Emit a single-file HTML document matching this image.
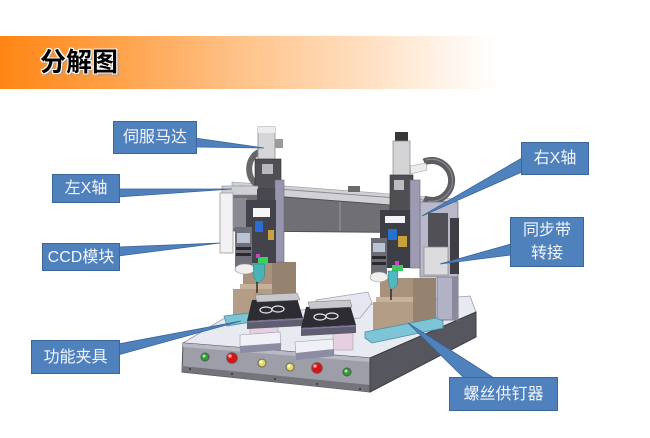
<!DOCTYPE html>
<html><head><meta charset="utf-8">
<style>
html,body{margin:0;padding:0;background:#fff;}
body{width:650px;height:438px;position:relative;overflow:hidden;font-family:"Liberation Sans","Noto Sans CJK SC",sans-serif;}
.band{position:absolute;left:0;top:36px;width:650px;height:53px;background:linear-gradient(to right,#ff8514 0%,#ffa24a 18%,#ffc48c 38%,#ffe2c6 58%,#fff6ee 70%,#ffffff 77%);}
.title{position:absolute;left:40px;top:47px;font-size:26px;line-height:28px;font-weight:bold;color:#000;font-family:"Noto Sans CJK SC",sans-serif;letter-spacing:0px;
text-shadow:-1px -1px 0 #fff,1px -1px 0 #fff,-1px 1px 0 #fff,1px 1px 0 #fff,0 -1px 0 #fff,0 1px 0 #fff,-1px 0 0 #fff,1px 0 0 #fff,2px 2px 2px #999;}
.lb{position:absolute;display:flex;align-items:center;justify-content:center;text-align:center;color:#f3f6fb;font-size:16px;line-height:21px;font-family:"Liberation Sans","Noto Sans CJK SC",sans-serif;}
</style></head><body>
<div class="band"></div>
<div class="title">分解图</div>
<svg width="650" height="438" style="position:absolute;left:0;top:0">
<!-- base -->
<polygon points="183,343 228,316 470,296 476,312 370,358" fill="#e8eaf2" stroke="#9a9aa6" stroke-width="0.8"/>
<polygon points="183,343 370,358 370,392 182,372" fill="#9d9ea8" stroke="#50505a" stroke-width="1"/>
<polygon points="183,343 370,358 370,362 183,347" fill="#b8b9c2"/>
<polygon points="182,366 370,385 370,392 182,372" fill="#74747c"/>
<polygon points="370,358 476,312 476,337 370,392" fill="#56565f" stroke="#3c3c44" stroke-width="1"/>
<g fill="#333">
<circle cx="190" cy="369" r="1"/><circle cx="232" cy="374" r="1"/><circle cx="275" cy="379" r="1"/><circle cx="317" cy="384" r="1"/><circle cx="360" cy="389" r="1"/>
</g>
<!-- buttons -->
<circle cx="205" cy="357" r="4" fill="#2f9e38" stroke="#555" stroke-width="1"/><circle cx="204" cy="356" r="1.5" fill="#9ef09e"/>
<circle cx="232" cy="358" r="5.5" fill="#d41616" stroke="#666" stroke-width="0.8"/><circle cx="230" cy="356" r="1.8" fill="#ff9a9a"/>
<circle cx="262" cy="363" r="4" fill="#e6dc5a" stroke="#666" stroke-width="1"/><circle cx="261" cy="362" r="1.5" fill="#fffbd0"/>
<circle cx="290" cy="367" r="4" fill="#e6dc5a" stroke="#666" stroke-width="1"/><circle cx="289" cy="366" r="1.5" fill="#fffbd0"/>
<circle cx="317" cy="368" r="5.5" fill="#d41616" stroke="#666" stroke-width="0.8"/><circle cx="315" cy="366" r="1.8" fill="#ff9a9a"/>
<circle cx="347" cy="372" r="4" fill="#2f9e38" stroke="#555" stroke-width="1"/><circle cx="346" cy="371" r="1.5" fill="#9ef09e"/>

<!-- right gantry post -->
<rect x="437" y="270" width="21" height="50" fill="#b2b2c6" stroke="#7a7a8c" stroke-width="1"/>
<rect x="452" y="270" width="6" height="50" fill="#8a8a9c"/>

<!-- beam -->
<polygon points="232,182 457,199 457,210 232,193" fill="#d2d2d6" stroke="#9a9aa0" stroke-width="0.6"/>
<line x1="240" y1="186" x2="450" y2="202" stroke="#8a8a90" stroke-width="1"/>
<polygon points="232,193 457,210 457,233 232,231" fill="#6f6f74" stroke="#4a4a50" stroke-width="0.8"/>
<line x1="340" y1="202" x2="340" y2="231" stroke="#98989e" stroke-width="1"/>
<rect x="348" y="186" width="12" height="6" fill="#6a6a6e"/>

<!-- cable rings -->
<path d="M264,151 A14,17 0 0 0 264,187" fill="none" stroke="#66666b" stroke-width="6"/>
<path d="M424,162 A20,20 0 1 1 424,199" fill="none" stroke="#5d5d62" stroke-width="7"/>
<path d="M426,160 A21,21 0 1 1 428,201" fill="none" stroke="#8e8e94" stroke-width="1"/>
<polygon points="410,166 426,163 427,170 411,174" fill="#ececec" stroke="#999" stroke-width="0.5"/>

<!-- beige blocks -->
<rect x="272" y="262" width="24" height="52" fill="#958370"/>
<rect x="243" y="262" width="29" height="26" fill="#a8927c"/>
<rect x="240" y="284" width="32" height="6" fill="#c6b29a"/>
<rect x="233" y="289" width="39" height="29" fill="#b39d86"/>
<rect x="413" y="278" width="23" height="48" fill="#958370"/>
<rect x="380" y="278" width="33" height="22" fill="#a8927c"/>
<rect x="376" y="297" width="37" height="6" fill="#c6b29a"/>
<rect x="373" y="302" width="40" height="31" fill="#b39d86"/>

<!-- cyan plates -->
<polygon points="365,332 436,318 443,321 443,328 372,343 365,338" fill="#7cc4d6" stroke="#4e8ea4" stroke-width="0.8"/>
<polygon points="224,316 250,313 251,322 227,326" fill="#7cc4d6" stroke="#4e8ea4" stroke-width="0.8"/>

<!-- left head -->
<rect x="258" y="127" width="17" height="33" fill="#d6d6d9" stroke="#8c8c90" stroke-width="0.8"/>
<rect x="258" y="127" width="17" height="6" fill="#ececee"/>
<rect x="275" y="139" width="8" height="9" fill="#9a9a9e"/>
<rect x="255" y="159" width="26" height="30" fill="#4f4f54" stroke="#333" stroke-width="0.6"/>
<rect x="262" y="164" width="11" height="10" fill="#b9b9bd"/>
<rect x="275" y="180" width="9" height="82" fill="#9896ae" stroke="#6c6a80" stroke-width="0.6"/>
<rect x="222" y="186" width="36" height="9" fill="#cfcfd4" stroke="#8a8a90" stroke-width="0.6"/>
<rect x="257" y="189" width="18" height="12" fill="#48484e"/>
<rect x="220" y="193" width="13" height="60" fill="#f2f2f4" stroke="#9a9aa0" stroke-width="0.8"/>
<rect x="233" y="198" width="14" height="30" fill="#8a8a92"/>
<rect x="246" y="200" width="30" height="63" fill="#43434b"/>
<rect x="253" y="208" width="17" height="9" fill="#f6f6f6"/>
<rect x="255" y="221" width="8" height="11" fill="#2a6cd4"/>
<rect x="268" y="230" width="6" height="10" fill="#c9a242"/>
<rect x="235" y="227" width="17" height="44" fill="#70707a"/>
<rect x="237" y="233" width="13" height="10" fill="#b8c4d4"/>
<rect x="236" y="247" width="15" height="3" fill="#2a2a2e"/>
<rect x="236" y="253" width="15" height="3" fill="#2a2a2e"/>
<ellipse cx="245" cy="269" rx="10" ry="5" fill="#f0eeee" stroke="#999" stroke-width="0.6"/>
<rect x="258" y="257" width="10" height="7" fill="#3ccf60"/>
<rect x="256" y="254" width="4" height="4" fill="#d040c8"/>
<polygon points="253,264 265,264 264,278 258,283 254,278" fill="#48b4b8" stroke="#2c7c80" stroke-width="0.5"/>
<line x1="257" y1="282" x2="257" y2="293" stroke="#111" stroke-width="1.2"/>

<!-- right head -->
<rect x="420" y="202" width="38" height="75" fill="#b9b8ca" stroke="#77778a" stroke-width="0.8"/>
<rect x="428" y="213" width="20" height="36" fill="#505056"/>
<rect x="424" y="247" width="24" height="28" fill="#dcdcde" stroke="#888" stroke-width="0.7"/>
<rect x="450" y="218" width="9" height="56" fill="#3e3e44"/>
<rect x="395" y="132" width="13" height="10" fill="#383838"/>
<rect x="393" y="141" width="17" height="35" fill="#d4d4d6" stroke="#888" stroke-width="0.7"/>
<rect x="390" y="175" width="23" height="37" fill="#4e4e53" stroke="#333" stroke-width="0.6"/>
<rect x="394" y="180" width="10" height="10" fill="#bdbdc1"/>
<rect x="410" y="180" width="10" height="88" fill="#9d9bb2" stroke="#6c6a80" stroke-width="0.6"/>
<rect x="380" y="210" width="30" height="58" fill="#3e3e46"/>
<rect x="385" y="216" width="20" height="7" fill="#f4f4f4"/>
<rect x="388" y="229" width="9" height="11" fill="#2870d0"/>
<rect x="398" y="236" width="9" height="11" fill="#c8a040"/>
<rect x="371" y="238" width="16" height="38" fill="#6c6c74"/>
<rect x="373" y="243" width="12" height="9" fill="#b8c4d4"/>
<rect x="372" y="256" width="14" height="3" fill="#2a2a2e"/>
<rect x="372" y="262" width="14" height="3" fill="#2a2a2e"/>
<ellipse cx="379" cy="277" rx="9" ry="5" fill="#f0eeee" stroke="#999" stroke-width="0.6"/>
<rect x="392" y="265" width="11" height="6" fill="#40c860"/>
<rect x="395" y="261" width="4" height="4" fill="#d040d0"/>
<polygon points="388,271 398,271 397,285 392,290 389,285" fill="#50b8c0" stroke="#2c7c80" stroke-width="0.5"/>
<line x1="391" y1="289" x2="391" y2="300" stroke="#111" stroke-width="1.2"/>

<!-- rails / slides -->
<polygon points="316,300 368,292 372,303 360,318 320,322" fill="#e6e6f0" stroke="#a0a0b0" stroke-width="0.7"/>
<!-- left fixture -->
<rect x="250" y="325" width="28" height="18" fill="#e6cfe0" stroke="#a890a0" stroke-width="0.5"/>
<polygon points="240,335 280,332 281,346 240,350" fill="#f0f0f6" stroke="#9a9ab0" stroke-width="0.6"/>
<polygon points="240,346 281,343 281,350 240,353" fill="#8c8ca2"/>
<polygon points="252,300 297,298 303,318 247,321" fill="#2c2c32"/>
<polygon points="255,295 297,293 300,300 257,302" fill="#c8c8cc" stroke="#777" stroke-width="0.5"/>
<ellipse cx="266" cy="310" rx="6" ry="3" fill="none" stroke="#e8e8e8" stroke-width="1.2"/>
<ellipse cx="278" cy="309" rx="6" ry="3" fill="none" stroke="#e8e8e8" stroke-width="1.2"/>
<polygon points="247,321 303,318 303,326 247,329" fill="#5e5e6e"/>
<line x1="247" y1="322" x2="303" y2="319" stroke="#8a7ab0" stroke-width="1"/>
<!-- right fixture -->
<rect x="333" y="329" width="20" height="21" fill="#e6cfe0" stroke="#a890a0" stroke-width="0.5"/>
<polygon points="295,342 333,339 334,353 296,358" fill="#f0f0f6" stroke="#9a9ab0" stroke-width="0.6"/>
<polygon points="296,353 334,349 334,356 296,360" fill="#8c8ca2"/>
<polygon points="306,307 350,305 356,325 301,328" fill="#2c2c32"/>
<polygon points="308,302 350,300 352,307 310,309" fill="#c8c8cc" stroke="#777" stroke-width="0.5"/>
<ellipse cx="320" cy="317" rx="6" ry="3" fill="none" stroke="#e8e8e8" stroke-width="1.2"/>
<ellipse cx="332" cy="316" rx="6" ry="3" fill="none" stroke="#e8e8e8" stroke-width="1.2"/>
<polygon points="301,328 356,325 356,333 301,336" fill="#5e5e6e"/>
<line x1="301" y1="329" x2="356" y2="326" stroke="#8a7ab0" stroke-width="1"/>

<!-- callout wedges -->
<g fill="#4f81bd" stroke="#3a6699" stroke-width="0.8">
<polygon points="195,138 264,148 195,147"/>
<polygon points="118,189 232,189 118,197"/>
<polygon points="118,247 220,243 118,256"/>
<polygon points="118,344 241,321 118,355"/>
<polygon points="522,158 422,216 522,172"/>
<polygon points="511,244 440,264 511,255"/>
<polygon points="464,378 408,323 494,378"/>
</g>
<g fill="#4f81bd" stroke="#3a6699" stroke-width="1">
<rect x="113.5" y="121.5" width="83" height="32"/>
<rect x="52.5" y="174.5" width="67" height="28"/>
<rect x="42.5" y="243.5" width="77" height="27"/>
<rect x="31.5" y="340.5" width="88" height="33"/>
<rect x="521.5" y="142.5" width="67" height="32"/>
<rect x="510.5" y="217.5" width="73" height="49"/>
<rect x="449.5" y="377.5" width="108" height="33"/>
</g>
</svg>
<div class="lb" style="left:113px;top:121px;width:84px;height:33px;">伺服马达</div>
<div class="lb" style="left:52px;top:174px;width:68px;height:29px;">左X轴</div>
<div class="lb" style="left:42px;top:243px;width:78px;height:28px;">CCD模块</div>
<div class="lb" style="left:31px;top:340px;width:89px;height:34px;">功能夹具</div>
<div class="lb" style="left:521px;top:142px;width:68px;height:33px;">右X轴</div>
<div class="lb" style="left:510px;top:217px;width:74px;height:50px;line-height:23px;">同步带<br>转接</div>
<div class="lb" style="left:449px;top:377px;width:109px;height:34px;">螺丝供钉器</div>
</body></html>
